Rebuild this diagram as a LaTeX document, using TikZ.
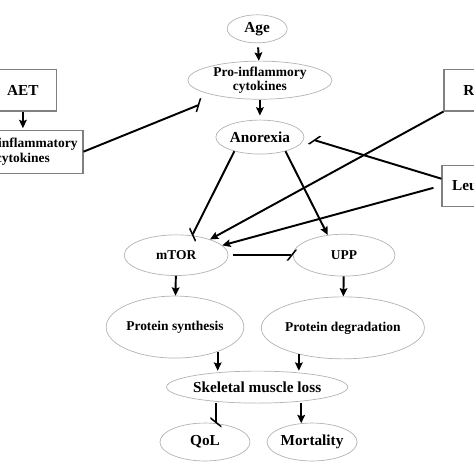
\documentclass[tikz,border=0pt]{standalone}
\usepackage{fontspec}
\setmainfont{Liberation Serif}
\usetikzlibrary{arrows.meta,calc,shapes.geometric}

\begin{document}
\begin{tikzpicture}[
		oval/.style={ellipse,draw=black!30,line width=0.5pt,inner sep=0pt,align=center,font=\bfseries\fontsize{11}{12}\selectfont},
		small/.style={font=\bfseries\fontsize{9.7}{11.5}\selectfont},
		box/.style={rectangle,draw=black!50,line width=0.8pt,inner sep=0pt,align=center,font=\bfseries\fontsize{11}{12}\selectfont},
		arr/.style={line width=1.4pt,-{Stealth[length=6pt,width=5.5pt,inset=1pt]}},
		inh/.style={line width=1.4pt,-{Bar[width=8pt,slant=0.8,line width=1.4pt]}}
	]
			\useasboundingbox (0,0) rectangle (12,-12);
			\clip (0,0) rectangle (12,-12);
			
			% pathway
			\node[oval,minimum width=1.52cm,minimum height=0.71cm] (age) at (6.51,-0.73) {Age};
			\node[oval,small,minimum width=3.65cm,minimum height=0.91cm] (proinf) at (6.58,-2.03) {Pro-inflammory\\[-1pt]cytokines};
			\node[oval,minimum width=2.23cm,minimum height=0.86cm] (anorexia) at (6.58,-3.47) {Anorexia};
			\node[oval,small,minimum width=2.63cm,minimum height=1.03cm] (mtor) at (4.46,-6.46) {mTOR};
			\node[oval,small,minimum width=2.58cm,minimum height=1.06cm] (upp) at (8.71,-6.46) {UPP};
			\node[oval,small,minimum width=3.34cm,minimum height=1.57cm] (psynth) at (4.43,-8.28) {Protein synthesis};
			\node[oval,small,minimum width=3.54cm,minimum height=1.57cm] (pdeg) at (8.68,-8.30) {Protein degradation};
			\node[oval,minimum width=3.95cm,minimum height=0.81cm] (skel) at (6.51,-9.80) {Skeletal muscle loss};
			\node[oval,minimum width=2.28cm,minimum height=0.96cm] (qol) at (5.19,-11.19) {QoL};
			\node[oval,minimum width=2.28cm,minimum height=0.96cm] (mort) at (7.90,-11.19) {Mortality};
			
			% interventions
			\node[box,minimum width=1.72cm,minimum height=1.06cm] (aet) at (0.58,-2.28) {AET};
			\node[box,small,minimum width=3.04cm,minimum height=1.09cm] (antiinf) at (0.58,-3.84) {Anti-inflammatory\\[-1pt]cytokines};
			\node[box,minimum width=1.52cm,minimum height=1.06cm] (re) at (12.0,-2.28) {RE};
			\node[box,minimum width=1.82cm,minimum height=1.04cm] (leu) at (12.10,-4.70) {Leucine};
			
			% connectors
			\draw[arr,shorten <=3pt] (age) -- (proinf);
			\draw[arr,shorten >=3pt] (proinf) -- (anorexia);
			\draw[arr,shorten >=1pt] (aet) -- (antiinf);
			\draw[inh,shorten >=16pt] (antiinf.east) -- (proinf);
			\draw[inh] (anorexia.209) -- (mtor.51);
			\draw[arr] (anorexia.331) -- (upp.129);
			\draw[arr] (re.south west) -- (mtor.25);
			\draw[arr,shorten <=6pt] (leu.west) -- (mtor.12);
			\draw[inh,shorten >=7pt] ([yshift=5pt]leu.west) -- (anorexia.east);
			\draw[inh,shorten <=3pt] (mtor.east) -- (upp.west);
			\draw[arr] (mtor) -- (psynth);
			\draw[arr] (upp) -- (pdeg);
			\draw[arr] (psynth.-30) -- (psynth.-30 |- skel.north);
			\draw[arr] (pdeg.211) -- (pdeg.211 |- skel.north);
			\draw[inh] (qol.60 |- skel.south) -- (qol.60);
			\draw[arr] (mort.120 |- skel.south) -- (mort.120);
			
		\end{tikzpicture}
\end{document}
